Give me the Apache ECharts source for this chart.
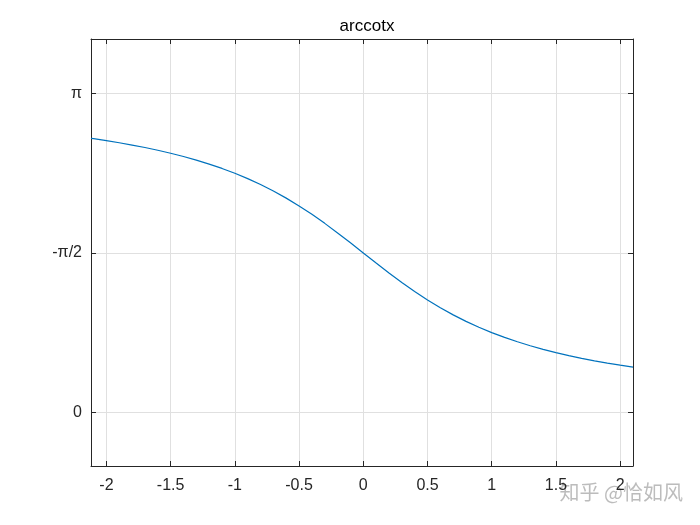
<!DOCTYPE html>
<html>
<head>
<meta charset="utf-8">
<script src="https://cdn.jsdelivr.net/npm/echarts@6/dist/echarts.min.js"></script>
<style>html,body{margin:0;padding:0;background:#fff}#c{width:700px;height:525px}</style>
</head>
<body>
<div id="c"></div>
<script>
var xValues = [-2.12,-2.1,-2.0,-1.9,-1.8,-1.7,-1.6,-1.5,-1.4,-1.3,-1.2,-1.1,-1.0,-0.9,-0.8,-0.7,-0.6,-0.5,-0.4,-0.3,-0.2,-0.1,0,0.1,0.2,0.3,0.4,0.5,0.6,0.7,0.8,0.9,1.0,1.1,1.2,1.3,1.4,1.5,1.6,1.7,1.8,1.9,2.0,2.1];
var yValues = [2.7008,2.6971,2.6779,2.6571,2.6345,2.6099,2.5830,2.5536,2.5213,2.4859,2.4469,2.4038,2.3562,2.3036,2.2455,2.1815,2.1112,2.0344,1.9513,1.8623,1.7682,1.6705,1.5708,1.4711,1.3734,1.2793,1.1903,1.1072,1.0304,0.9601,0.8961,0.8380,0.7854,0.7378,0.6947,0.6557,0.6203,0.5880,0.5586,0.5317,0.5071,0.4845,0.4637,0.4445];
var xTicks = [-2,-1.5,-1,-0.5,0,0.5,1,1.5,2];
var yTicks = [0, 1.5708, 3.1416];
var yTickLabels = ['0', '-π/2', 'π'];
var titleText = 'arccotx';
var watermark = '知乎 @恰如风';

var font = 'Arial, "Liberation Sans", Helvetica, sans-serif';
var chart = echarts.init(document.getElementById('c'));
var data = xValues.map(function (x, i) { return [x, yValues[i]]; });
var axisLineStyle = { color: '#262626', width: 1 };
var xmin = -2.12, xmax = 2.1, ymin = -0.53, ymax = 3.68;

chart.setOption({
  animation: false,
  backgroundColor: '#fff',
  title: {
    text: titleText, left: 362, top: 13, textAlign: 'center',
    textStyle: { fontFamily: font, fontSize: 17, fontWeight: 'normal', color: '#000' }
  },
  grid: { left: 91, top: 39, right: 67, bottom: 59, containLabel: false },
  xAxis: [{
    type: 'value', min: xmin, max: xmax, position: 'bottom',
    axisLine: { show: true, onZero: false, lineStyle: axisLineStyle },
    axisTick: { show: true, inside: true, length: 5, customValues: xTicks, lineStyle: axisLineStyle },
    axisLabel: { show: true, customValues: xTicks, margin: 12, fontFamily: font, fontSize: 16, color: '#262626',
      formatter: function (v) { return String(v); } },
    splitLine: { show: true, lineStyle: { color: '#e0e0e0', width: 1 } }
  }, {
    type: 'value', min: xmin, max: xmax, position: 'top',
    axisLine: { show: true, onZero: false, lineStyle: axisLineStyle },
    axisTick: { show: true, inside: true, length: 5, customValues: xTicks, lineStyle: axisLineStyle },
    axisLabel: { show: false },
    splitLine: { show: false }
  }],
  yAxis: [{
    type: 'value', min: ymin, max: ymax, position: 'left',
    axisLine: { show: true, onZero: false, lineStyle: axisLineStyle },
    axisTick: { show: true, inside: true, length: 5, customValues: yTicks, lineStyle: axisLineStyle },
    axisLabel: { show: true, customValues: yTicks, margin: 9, fontFamily: font, fontSize: 16, color: '#262626',
      formatter: function (v) {
        for (var i = 0; i < yTicks.length; i++) { if (Math.abs(v - yTicks[i]) < 1e-3) return yTickLabels[i]; }
        return '';
      } },
    splitLine: { show: true, lineStyle: { color: '#e0e0e0', width: 1 } }
  }, {
    type: 'value', min: ymin, max: ymax, position: 'right',
    axisLine: { show: true, onZero: false, lineStyle: axisLineStyle },
    axisTick: { show: true, inside: true, length: 5, customValues: yTicks, lineStyle: axisLineStyle },
    axisLabel: { show: false },
    splitLine: { show: false }
  }],
  series: [{
    type: 'line', data: data, xAxisIndex: 0, yAxisIndex: 0,
    showSymbol: false, smooth: false,
    lineStyle: { color: '#0072BD', width: 1.2 }
  }],
  graphic: [{
    type: 'text', right: 17, top: 482,
    style: { text: watermark, fontFamily: '"Noto Sans CJK SC", sans-serif', fontSize: 20,
      fill: 'rgba(160,160,160,0.7)' }
  }]
});
</script>
</body>
</html>
